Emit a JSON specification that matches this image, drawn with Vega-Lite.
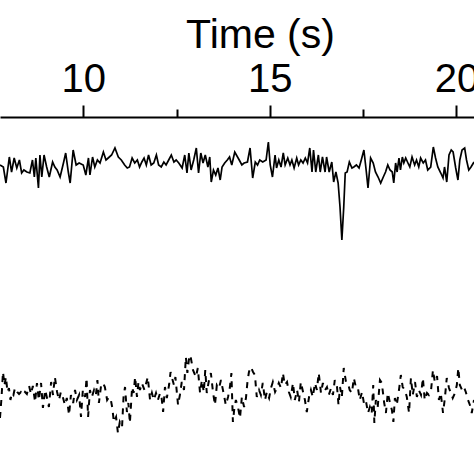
{
  "$schema": "https://vega.github.io/schema/vega-lite/v6.json",
  "width": 474,
  "height": 357,
  "autosize": "none",
  "padding": {"left": 0, "right": 0, "top": 117, "bottom": 0},
  "background": "white",
  "config": {"view": {"stroke": null}},
  "datasets": {
    "upper": [
      {"t":7.77,"v":309},{"t":7.86,"v":307},{"t":7.93,"v":291},{"t":8.02,"v":317},{"t":8.08,"v":302},{"t":8.15,"v":316},{"t":8.22,"v":306},{"t":8.29,"v":314},{"t":8.35,"v":301},{"t":8.41,"v":304},{"t":8.49,"v":302},{"t":8.57,"v":301},{"t":8.64,"v":314},{"t":8.69,"v":297},{"t":8.73,"v":316},{"t":8.80,"v":286},{"t":8.84,"v":319},{"t":8.89,"v":297},{"t":8.95,"v":319},{"t":9.02,"v":307},{"t":9.09,"v":297},{"t":9.18,"v":312},{"t":9.24,"v":307},{"t":9.30,"v":304},{"t":9.38,"v":297},{"t":9.47,"v":311},{"t":9.53,"v":321},{"t":9.60,"v":302},{"t":9.65,"v":291},{"t":9.73,"v":324},{"t":9.81,"v":309},{"t":9.89,"v":311},{"t":10.00,"v":309},{"t":10.07,"v":299},{"t":10.14,"v":316},{"t":10.18,"v":299},{"t":10.25,"v":317},{"t":10.31,"v":307},{"t":10.38,"v":314},{"t":10.45,"v":311},{"t":10.54,"v":322},{"t":10.61,"v":314},{"t":10.67,"v":316},{"t":10.76,"v":319},{"t":10.85,"v":326},{"t":10.94,"v":317},
      {"t":11.02,"v":314},{"t":11.11,"v":309},{"t":11.18,"v":306},{"t":11.24,"v":307},{"t":11.31,"v":316},{"t":11.38,"v":311},{"t":11.45,"v":314},{"t":11.51,"v":307},{"t":11.57,"v":312},{"t":11.63,"v":316},{"t":11.69,"v":309},{"t":11.75,"v":319},{"t":11.82,"v":309},{"t":11.89,"v":311},{"t":11.96,"v":319},{"t":12.02,"v":309},{"t":12.09,"v":307},{"t":12.16,"v":312},{"t":12.22,"v":309},{"t":12.29,"v":314},{"t":12.36,"v":319},{"t":12.43,"v":312},{"t":12.49,"v":314},{"t":12.56,"v":311},{"t":12.65,"v":306},{"t":12.72,"v":319},{"t":12.78,"v":301},{"t":12.83,"v":321},{"t":12.89,"v":304},{"t":12.96,"v":314},{"t":13.03,"v":326},{"t":13.09,"v":301},{"t":13.15,"v":321},{"t":13.21,"v":311},{"t":13.27,"v":319},{"t":13.34,"v":307},{"t":13.39,"v":317},{"t":13.43,"v":292},{"t":13.49,"v":304},{"t":13.55,"v":299},{"t":13.61,"v":306},{"t":13.67,"v":294},{"t":13.72,"v":307},{"t":13.79,"v":311},{"t":13.86,"v":314},{"t":13.92,"v":317},{"t":13.98,"v":309},{"t":14.06,"v":322},
      {"t":14.18,"v":314},{"t":14.25,"v":309},{"t":14.31,"v":311},{"t":14.40,"v":312},{"t":14.47,"v":326},{"t":14.54,"v":296},{"t":14.61,"v":312},{"t":14.67,"v":309},{"t":14.73,"v":314},{"t":14.81,"v":312},{"t":14.90,"v":314},{"t":14.96,"v":332},{"t":15.01,"v":309},{"t":15.07,"v":297},{"t":15.14,"v":319},{"t":15.18,"v":306},{"t":15.24,"v":314},{"t":15.30,"v":307},{"t":15.36,"v":321},{"t":15.41,"v":309},{"t":15.48,"v":316},{"t":15.54,"v":309},{"t":15.59,"v":314},{"t":15.65,"v":306},{"t":15.72,"v":316},{"t":15.77,"v":309},{"t":15.83,"v":314},{"t":15.89,"v":311},{"t":15.95,"v":316},{"t":16.01,"v":311},{"t":16.07,"v":326},{"t":16.13,"v":302},{"t":16.17,"v":324},{"t":16.23,"v":302},{"t":16.30,"v":319},{"t":16.35,"v":302},{"t":16.41,"v":317},{"t":16.48,"v":302},{"t":16.52,"v":317},{"t":16.59,"v":302},{"t":16.66,"v":312},{"t":16.71,"v":292},{"t":16.77,"v":302},{"t":16.83,"v":291},{"t":16.88,"v":267},{"t":16.93,"v":234},{"t":16.98,"v":267},{"t":17.02,"v":301},{"t":17.07,"v":302},{"t":17.13,"v":312},{"t":17.20,"v":306},
      {"t":17.25,"v":307},{"t":17.32,"v":309},{"t":17.39,"v":306},{"t":17.45,"v":314},{"t":17.52,"v":324},{"t":17.58,"v":304},{"t":17.63,"v":286},{"t":17.70,"v":316},{"t":17.77,"v":311},{"t":17.83,"v":302},{"t":17.90,"v":297},{"t":17.97,"v":291},{"t":18.04,"v":297},{"t":18.10,"v":302},{"t":18.16,"v":309},{"t":18.22,"v":304},{"t":18.28,"v":302},{"t":18.32,"v":291},{"t":18.37,"v":311},{"t":18.41,"v":302},{"t":18.46,"v":316},{"t":18.50,"v":304},{"t":18.55,"v":317},{"t":18.59,"v":311},{"t":18.64,"v":316},{"t":18.70,"v":311},{"t":18.75,"v":307},{"t":18.81,"v":317},{"t":18.88,"v":309},{"t":18.93,"v":314},{"t":18.99,"v":307},{"t":19.04,"v":316},{"t":19.11,"v":311},{"t":19.17,"v":314},{"t":19.23,"v":304},{"t":19.31,"v":307},{"t":19.38,"v":327},{"t":19.44,"v":316},{"t":19.50,"v":307},{"t":19.58,"v":301},{"t":19.64,"v":296},{"t":19.68,"v":307},{"t":19.74,"v":292},{"t":19.80,"v":319},{"t":19.86,"v":324},{"t":19.91,"v":322},{"t":19.98,"v":306},{"t":20.04,"v":294},{"t":20.09,"v":314},{"t":20.15,"v":324},{"t":20.22,"v":326},{"t":20.27,"v":314},{"t":20.33,"v":304},{"t":20.39,"v":307},{"t":20.47,"v":312}
    ],
    "lower": [
      {"t":7.77,"v":56},{"t":7.81,"v":76},{"t":7.85,"v":102},{"t":7.89,"v":89},{"t":7.93,"v":97},{"t":7.97,"v":82},{"t":8.01,"v":86},{"t":8.05,"v":74},{"t":8.09,"v":81},{"t":8.13,"v":79},{"t":8.17,"v":86},{"t":8.23,"v":82},{"t":8.28,"v":80},{"t":8.33,"v":82},{"t":8.39,"v":79},{"t":8.44,"v":82},{"t":8.49,"v":80},{"t":8.55,"v":88},{"t":8.60,"v":80},{"t":8.65,"v":88},{"t":8.71,"v":72},{"t":8.76,"v":91},{"t":8.81,"v":74},{"t":8.87,"v":91},{"t":8.92,"v":66},{"t":8.98,"v":84},{"t":9.03,"v":76},{"t":9.08,"v":67},{"t":9.14,"v":92},{"t":9.19,"v":79},{"t":9.24,"v":97},{"t":9.30,"v":82},{"t":9.35,"v":74},{"t":9.40,"v":82},{"t":9.46,"v":76},{"t":9.51,"v":69},{"t":9.56,"v":76},{"t":9.62,"v":59},{"t":9.67,"v":79},{"t":9.73,"v":71},{"t":9.78,"v":84},{"t":9.83,"v":74},{"t":9.89,"v":79},{"t":9.94,"v":57},{"t":9.99,"v":84},{"t":10.05,"v":77},{"t":10.09,"v":96},{"t":10.13,"v":57},{"t":10.18,"v":84},{"t":10.23,"v":77},{"t":10.29,"v":84},{"t":10.34,"v":79},{"t":10.38,"v":94},{"t":10.42,"v":71},{"t":10.48,"v":89},{"t":10.53,"v":91},{"t":10.58,"v":87},{"t":10.64,"v":74},{"t":10.69,"v":77},{"t":10.74,"v":74},{"t":10.78,"v":66},{"t":10.82,"v":52},{"t":10.88,"v":57},{"t":10.93,"v":41},{"t":10.98,"v":52},{"t":11.04,"v":47},{"t":11.08,"v":77},{"t":11.12,"v":87},{"t":11.17,"v":62},{"t":11.21,"v":71},{"t":11.25,"v":51},{"t":11.31,"v":87},{"t":11.35,"v":81},{"t":11.39,"v":97},{"t":11.44,"v":77},{"t":11.48,"v":92},{"t":11.52,"v":84},{"t":11.57,"v":91},{"t":11.64,"v":84},{"t":11.68,"v":90},{"t":11.73,"v":97},{"t":11.79,"v":74},{"t":11.84,"v":81},{"t":11.89,"v":74},{"t":11.95,"v":81},{"t":12.00,"v":74},
      {"t":12.06,"v":81},{"t":12.10,"v":76},{"t":12.14,"v":62},{"t":12.19,"v":87},{"t":12.24,"v":76},{"t":12.30,"v":89},{"t":12.34,"v":102},{"t":12.38,"v":96},{"t":12.43,"v":89},{"t":12.47,"v":97},{"t":12.54,"v":69},{"t":12.59,"v":79},{"t":12.64,"v":92},{"t":12.70,"v":84},{"t":12.75,"v":117},{"t":12.79,"v":101},{"t":12.83,"v":114},{"t":12.87,"v":119},{"t":12.94,"v":104},{"t":13.02,"v":97},{"t":13.07,"v":106},{"t":13.13,"v":81},{"t":13.18,"v":94},{"t":13.23,"v":82},{"t":13.27,"v":104},{"t":13.31,"v":81},{"t":13.37,"v":94},{"t":13.42,"v":101},{"t":13.48,"v":81},{"t":13.53,"v":69},{"t":13.58,"v":89},{"t":13.64,"v":86},{"t":13.69,"v":94},{"t":13.77,"v":79},{"t":13.82,"v":69},{"t":13.88,"v":77},{"t":13.93,"v":87},{"t":13.97,"v":101},{"t":14.01,"v":52},{"t":14.05,"v":66},{"t":14.09,"v":74},{"t":14.15,"v":66},{"t":14.20,"v":56},{"t":14.25,"v":77},{"t":14.31,"v":67},{"t":14.36,"v":76},{"t":14.40,"v":92},{"t":14.44,"v":102},{"t":14.49,"v":107},{"t":14.55,"v":102},{"t":14.60,"v":99},{"t":14.65,"v":77},{"t":14.71,"v":84},{"t":14.76,"v":79},{"t":14.81,"v":91},{"t":14.87,"v":74},{"t":14.92,"v":82},{"t":14.98,"v":76},{"t":15.03,"v":86},{"t":15.08,"v":92},{"t":15.14,"v":82},{"t":15.19,"v":86},{"t":15.24,"v":91},{"t":15.30,"v":86},{"t":15.35,"v":101},{"t":15.40,"v":89},{"t":15.46,"v":92},{"t":15.51,"v":82},{"t":15.56,"v":77},{"t":15.62,"v":91},{"t":15.67,"v":74},{"t":15.73,"v":84},{"t":15.78,"v":72},{"t":15.83,"v":92},{"t":15.89,"v":82},{"t":15.94,"v":74},{"t":15.99,"v":62},{"t":16.05,"v":77},{"t":16.10,"v":84},{"t":16.15,"v":77},{"t":16.21,"v":91},{"t":16.26,"v":84},{"t":16.31,"v":101},{"t":16.37,"v":81},{"t":16.42,"v":91},{"t":16.48,"v":84},{"t":16.53,"v":87},{"t":16.58,"v":79},{"t":16.64,"v":86},{"t":16.69,"v":79},{"t":16.74,"v":94},{"t":16.80,"v":87},{"t":16.84,"v":69},{"t":16.88,"v":87},{"t":16.93,"v":77},{"t":16.98,"v":106},
      {"t":17.04,"v":92},{"t":17.09,"v":91},{"t":17.14,"v":84},{"t":17.20,"v":81},{"t":17.25,"v":96},{"t":17.31,"v":86},{"t":17.36,"v":86},{"t":17.41,"v":74},{"t":17.47,"v":82},{"t":17.52,"v":71},{"t":17.57,"v":74},{"t":17.63,"v":61},{"t":17.68,"v":67},{"t":17.73,"v":61},{"t":17.77,"v":89},{"t":17.80,"v":51},{"t":17.84,"v":74},{"t":17.89,"v":67},{"t":17.95,"v":94},{"t":18.00,"v":91},{"t":18.06,"v":72},{"t":18.11,"v":61},{"t":18.16,"v":81},{"t":18.22,"v":71},{"t":18.27,"v":64},{"t":18.31,"v":52},{"t":18.35,"v":76},{"t":18.40,"v":69},{"t":18.46,"v":84},{"t":18.51,"v":99},{"t":18.56,"v":87},{"t":18.62,"v":84},{"t":18.67,"v":77},{"t":18.73,"v":61},{"t":18.78,"v":96},{"t":18.83,"v":79},{"t":18.89,"v":92},{"t":18.94,"v":77},{"t":18.99,"v":84},{"t":19.05,"v":79},{"t":19.10,"v":96},{"t":19.15,"v":74},{"t":19.21,"v":81},{"t":19.26,"v":79},{"t":19.32,"v":84},{"t":19.37,"v":104},{"t":19.42,"v":92},{"t":19.48,"v":98},{"t":19.53,"v":74},{"t":19.58,"v":81},{"t":19.64,"v":61},{"t":19.69,"v":76},{"t":19.74,"v":96},{"t":19.80,"v":86},{"t":19.85,"v":81},{"t":19.90,"v":76},{"t":19.96,"v":81},{"t":20.01,"v":89},{"t":20.05,"v":106},{"t":20.09,"v":89},{"t":20.15,"v":84},{"t":20.20,"v":87},{"t":20.25,"v":82},{"t":20.31,"v":74},{"t":20.36,"v":69},{"t":20.41,"v":61},{"t":20.47,"v":74}
    ]
  },
  "encoding": {
    "x": {
      "field": "t",
      "type": "quantitative",
      "scale": {"domain": [7.77, 20.47], "nice": false, "zero": false},
      "axis": {
        "orient": "top",
        "title": "Time (s)",
        "values": [10, 12.5, 15, 17.5, 20],
        "format": "d",
        "labelExpr": "datum.value % 5 === 0 ? datum.label : ''",
        "grid": false,
        "domainColor": "black",
        "domainWidth": 2,
        "tickColor": "black",
        "tickWidth": 2,
        "tickSize": {"condition": {"test": "datum.value % 5 === 0", "value": 12}, "value": 8},
        "labelFont": "Liberation Sans",
        "labelFontSize": 40,
        "labelColor": "black",
        "labelPadding": 6,
        "labelFlush": false,
        "labelOverlap": false,
        "labelBound": false,
        "titleFont": "Liberation Sans",
        "titleFontSize": 41,
        "titleFontWeight": "normal",
        "titleColor": "black",
        "titleX": 260,
        "titleY": -70,
        "titleAlign": "center",
        "titleBaseline": "alphabetic"
      }
    },
    "y": {"field": "v", "type": "quantitative", "scale": {"domain": [0, 357]}, "axis": null}
  },
  "layer": [
    {
      "data": {"name": "upper"},
      "mark": {"type": "line", "color": "black", "strokeWidth": 1.7, "clip": true}
    },
    {
      "data": {"name": "lower"},
      "mark": {"type": "line", "color": "black", "strokeWidth": 2, "strokeDash": [6, 6], "clip": true}
    }
  ]
}
